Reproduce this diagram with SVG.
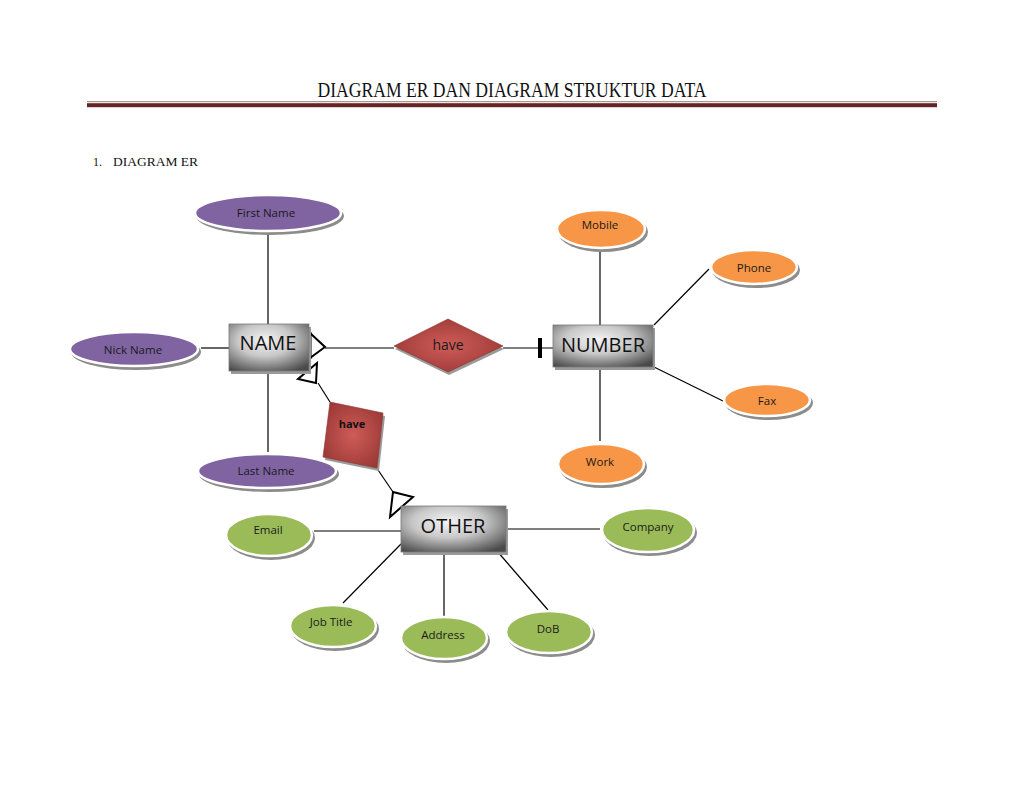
<svg xmlns="http://www.w3.org/2000/svg" width="1023" height="791" viewBox="0 0 1023 791">
<defs>
<radialGradient id="boxGrad" cx="45%" cy="35%" r="75%">
<stop offset="0" stop-color="#f4f4f4"/>
<stop offset="0.45" stop-color="#c8c8c8"/>
<stop offset="1" stop-color="#4a4a4a"/>
</radialGradient>
<radialGradient id="redGrad" cx="50%" cy="50%" r="60%">
<stop offset="0" stop-color="#cf5c58"/>
<stop offset="1" stop-color="#9a3835"/>
</radialGradient>
<style>
.lbl{font-family:"Open Sans","Liberation Sans",sans-serif;font-size:11.5px;fill:#1a1a1a;text-anchor:middle}
.ent{font-family:"Open Sans","Liberation Sans",sans-serif;font-size:20px;fill:#111;text-anchor:middle}
.box{fill:url(#boxGrad);stroke:#7a7a7a;stroke-width:0.8}
.shadow{fill:#9a9a9a}
.ell{stroke:#ffffff;stroke-width:2.5}
.eshadow{fill:#8c8c8c}
.purple{fill:#8064a2}
.orange{fill:#f79646}
.green{fill:#9bbb59}
.conn line{stroke:#000;stroke-width:1.2}
.tri{fill:#fff;stroke:#000;stroke-width:2;stroke-linejoin:miter}
.rel{fill:url(#redGrad);stroke:#8a302d;stroke-width:0.6}
</style>
</defs>
<rect width="1023" height="791" fill="#ffffff"/>
<text x="512" y="97" font-family="Liberation Serif, serif" font-size="21" text-anchor="middle" textLength="389" lengthAdjust="spacingAndGlyphs" fill="#111">DIAGRAM ER DAN DIAGRAM STRUKTUR DATA</text>
<rect x="87" y="101.2" width="850" height="1" fill="#9c7b7b"/>
<rect x="87" y="103.2" width="850" height="4" fill="#652626"/>
<text x="93" y="166" font-family="Liberation Serif, serif" font-size="12" fill="#111">1.</text>
<text x="113" y="166" font-family="Liberation Serif, serif" font-size="12" fill="#111" textLength="85" lengthAdjust="spacingAndGlyphs">DIAGRAM ER</text>
<g id="connectors" class="conn">
<line x1="268" y1="233" x2="268" y2="324"/>
<line x1="201" y1="348" x2="229" y2="348"/>
<line x1="268" y1="371" x2="268" y2="452"/>
<line x1="325" y1="348" x2="394" y2="348"/>
<line x1="503" y1="348" x2="553" y2="348"/>
<line x1="600" y1="251" x2="600" y2="325"/>
<line x1="654" y1="325" x2="709" y2="269"/>
<line x1="654" y1="367" x2="723" y2="401"/>
<line x1="600" y1="367" x2="600" y2="441"/>
<line x1="318" y1="383" x2="330" y2="402"/>
<line x1="376" y1="467" x2="393" y2="492"/>
<line x1="314" y1="531" x2="401" y2="531"/>
<line x1="401" y1="544" x2="343" y2="603"/>
<line x1="444" y1="553" x2="444" y2="616"/>
<line x1="497" y1="551" x2="548" y2="610"/>
<line x1="506" y1="529" x2="600" y2="529"/>
<rect x="538" y="338" width="4" height="20" fill="#000"/>
<polygon class="tri" points="310,333 325,347 310,358"/>
<line x1="310" y1="332" x2="310" y2="359" style="stroke-width:3"/>
<polygon class="tri" points="317,363 298,379 316,383"/>
<polygon class="tri" points="393,492 413,497 390,517"/>
</g>
<g id="first-name">
<ellipse class="eshadow" cx="270" cy="216" rx="74" ry="19"/>
<ellipse class="ell purple" cx="268" cy="213" rx="73" ry="18"/>
<text class="lbl" x="266" y="217">First Name</text>
</g>
<g id="nick-name">
<ellipse class="eshadow" cx="136" cy="352" rx="65" ry="18"/>
<ellipse class="ell purple" cx="134" cy="349" rx="64" ry="17"/>
<text class="lbl" x="133" y="354">Nick Name</text>
</g>
<g id="last-name">
<ellipse class="eshadow" cx="269" cy="474" rx="70" ry="18"/>
<ellipse class="ell purple" cx="267" cy="471" rx="69" ry="17"/>
<text class="lbl" x="266" y="475">Last Name</text>
</g>
<g id="NAME">
<rect class="shadow" x="231" y="327" width="80" height="47"/>
<rect class="box" x="229" y="324" width="80" height="47"/>
<text class="ent" x="268" y="350">NAME</text>
</g>
<g id="have-1">
<polygon class="shadow" points="395,349 449,322 504,349 449,375"/>
<polygon class="rel" points="394,346 448,319 503,346 448,372"/>
<text x="448" y="350" font-family="Open Sans, Liberation Sans, sans-serif" font-size="14" fill="#1a1a1a" text-anchor="middle">have</text>
</g>
<g id="NUMBER">
<rect class="shadow" x="555" y="328" width="100" height="42"/>
<rect class="box" x="553" y="325" width="100" height="42"/>
<text class="ent" x="603" y="352">NUMBER</text>
</g>
<g id="mobile">
<ellipse class="eshadow" cx="603" cy="232" rx="45" ry="20"/>
<ellipse class="ell orange" cx="601" cy="229" rx="44" ry="19"/>
<text class="lbl" x="600" y="229">Mobile</text>
</g>
<g id="phone">
<ellipse class="eshadow" cx="756" cy="270" rx="44" ry="18"/>
<ellipse class="ell orange" cx="754" cy="267" rx="43" ry="17"/>
<text class="lbl" x="754" y="272">Phone</text>
</g>
<g id="fax">
<ellipse class="eshadow" cx="769" cy="403" rx="44" ry="17"/>
<ellipse class="ell orange" cx="767" cy="400" rx="43" ry="16"/>
<text class="lbl" x="767" y="405">Fax</text>
</g>
<g id="work">
<ellipse class="eshadow" cx="603" cy="467" rx="44" ry="21"/>
<ellipse class="ell orange" cx="601" cy="464" rx="43" ry="20"/>
<text class="lbl" x="600" y="466">Work</text>
</g>
<g id="have-2">
<polygon class="shadow" points="332,405 385,416 379,471 325,460"/>
<polygon class="rel" points="330,402 383,413 377,468 323,457"/>
<text x="352" y="428" font-family="Open Sans, Liberation Sans, sans-serif" font-size="11" font-weight="bold" fill="#111" text-anchor="middle">have</text>
</g>
<g id="OTHER">
<rect class="shadow" x="403" y="509" width="105" height="46"/>
<rect class="box" x="401" y="506" width="105" height="46"/>
<text class="ent" x="453" y="533">OTHER</text>
</g>
<g id="email">
<ellipse class="eshadow" cx="271" cy="538" rx="44" ry="22"/>
<ellipse class="ell green" cx="269" cy="535" rx="43" ry="21"/>
<text class="lbl" x="268" y="534">Email</text>
</g>
<g id="job-title">
<ellipse class="eshadow" cx="335" cy="629" rx="44" ry="22"/>
<ellipse class="ell green" cx="333" cy="626" rx="43" ry="21"/>
<text class="lbl" x="331" y="626">Job Title</text>
</g>
<g id="address">
<ellipse class="eshadow" cx="446" cy="641" rx="44" ry="22"/>
<ellipse class="ell green" cx="444" cy="638" rx="43" ry="21"/>
<text class="lbl" x="443" y="639">Address</text>
</g>
<g id="dob">
<ellipse class="eshadow" cx="551" cy="635" rx="44" ry="22"/>
<ellipse class="ell green" cx="549" cy="632" rx="43" ry="21"/>
<text class="lbl" x="548" y="633">DoB</text>
</g>
<g id="company">
<ellipse class="eshadow" cx="650" cy="533" rx="47" ry="23"/>
<ellipse class="ell green" cx="648" cy="530" rx="46" ry="22"/>
<text class="lbl" x="648" y="531">Company</text>
</g>
</svg>
